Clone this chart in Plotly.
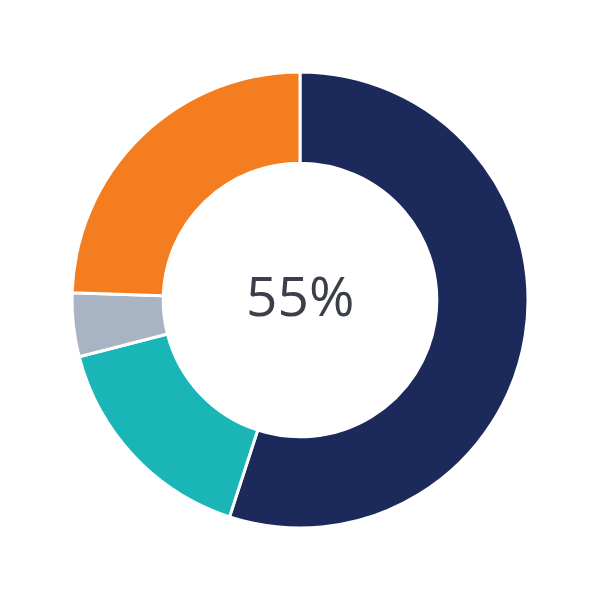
import plotly.graph_objects as go

labels = ["Navy", "Teal", "Gray", "Orange"]
values = [55, 16, 4.5, 24.5]
colors = ["#1c2a5b", "#1ab5b6", "#a8b4c3", "#f47d20"]
center_text = "55%"

fig = go.Figure(go.Pie(
    labels=labels,
    values=values,
    hole=0.6,
    sort=False,
    direction="clockwise",
    rotation=0,
    marker=dict(colors=colors, line=dict(color="white", width=3)),
    textinfo="none",
    hoverinfo="label+percent",
    showlegend=False,
))

fig.add_annotation(
    text=center_text, x=0.5, y=0.5, xref="paper", yref="paper",
    showarrow=False, yshift=6,
    font=dict(family="Open Sans", size=55, color="#3b3f4a"),
)

fig.update_layout(
    width=600, height=600,
    margin=dict(l=64, r=80, t=64, b=80),
    paper_bgcolor="white",
)

fig.write_html("out.html")
